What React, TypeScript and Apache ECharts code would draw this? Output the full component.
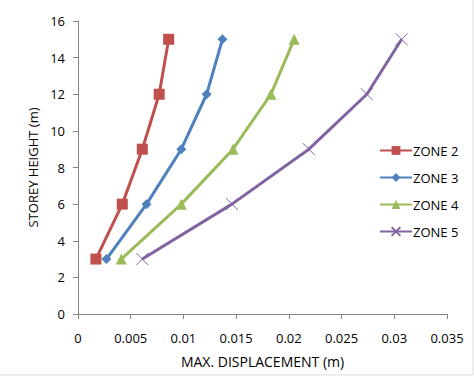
import React, { useEffect, useRef } from "react";
import * as echarts from "echarts";

const heights = [3, 6, 9, 12, 15];
const zone2 = [0.0017, 0.0042, 0.0061, 0.0077, 0.0086];
const zone3 = [0.0027, 0.0065, 0.0098, 0.0122, 0.0137];
const zone4 = [0.0041, 0.0098, 0.0147, 0.0183, 0.0205];
const zone5 = [0.0061, 0.0146, 0.0219, 0.0274, 0.0307];
const seriesNames = ["ZONE 2", "ZONE 3", "ZONE 4", "ZONE 5"];
const colors = ["#C0504D", "#4F81BD", "#9BBB59", "#8064A2"];

const FONT = "'Open Sans', sans-serif";

export default function App() {
  const ref = useRef<HTMLDivElement>(null);
  useEffect(() => {
    const chart = echarts.init(ref.current!, null, { renderer: "svg" });
    const mk = (xs: number[]) => xs.map((x, i) => [x, heights[i]]);
    const all = [zone2, zone3, zone4, zone5];
    const symbols = ["rect", "diamond", "triangle", "path://M0,0L10,10M10,0L0,10"];
    const sizes = [11, 10, 11, 12];
    chart.setOption({
      animation: false,
      backgroundColor: "#fff",
      textStyle: { fontFamily: FONT },
      grid: { left: 78, right: 27, top: 21, bottom: 64 },
      graphic: [
        {
          type: "rect",
          shape: { x: -1, y: -1, width: 474, height: 376 },
          style: { fill: "none", stroke: "#dddddd", lineWidth: 1 },
          silent: true,
        },
      ],
      legend: {
        orient: "vertical",
        left: 374,
        top: 139,
        itemGap: 14,
        itemWidth: 32,
        itemHeight: 11,
        textStyle: { fontFamily: FONT, fontSize: 13, color: "#000", padding: [0, 0, 0, -4] },
        data: seriesNames,
      },
      xAxis: {
        type: "value",
        min: 0,
        max: 0.035,
        interval: 0.005,
        name: "MAX. DISPLACEMENT (m)",
        nameLocation: "middle",
        nameGap: 40,
        nameTextStyle: { fontFamily: FONT, fontSize: 14, color: "#000" },
        axisLine: { show: true, lineStyle: { color: "#868686" } },
        axisTick: { show: true, length: 5, lineStyle: { color: "#868686" } },
        axisLabel: { margin: 17, fontFamily: FONT, fontSize: 13, color: "#000" },
        splitLine: { show: false },
      },
      yAxis: {
        type: "value",
        min: 0,
        max: 16,
        interval: 2,
        name: "STOREY HEIGHT (m)",
        nameLocation: "middle",
        nameGap: 37,
        nameTextStyle: { fontFamily: FONT, fontSize: 13, color: "#000" },
        axisLine: { show: true, lineStyle: { color: "#868686" } },
        axisTick: { show: true, length: 5, lineStyle: { color: "#868686" } },
        axisLabel: { margin: 13, fontFamily: FONT, fontSize: 13, color: "#000" },
        splitLine: { show: false },
      },
      series: all.map((d, i) => ({
        name: seriesNames[i],
        type: "line",
        data: mk(d),
        symbol: symbols[i],
        symbolSize: sizes[i],
        lineStyle: { color: colors[i], width: 3 },
        itemStyle:
          i === 3
            ? { color: "rgba(0,0,0,0)", borderColor: colors[i], borderWidth: 1 }
            : { color: colors[i] },
        z: 2 + i,
      })),
    });
    return () => chart.dispose();
  }, []);
  return (
    <div
      ref={ref}
      style={{ position: "fixed", left: 0, top: 0, width: 474, height: 378 }}
    />
  );
}
